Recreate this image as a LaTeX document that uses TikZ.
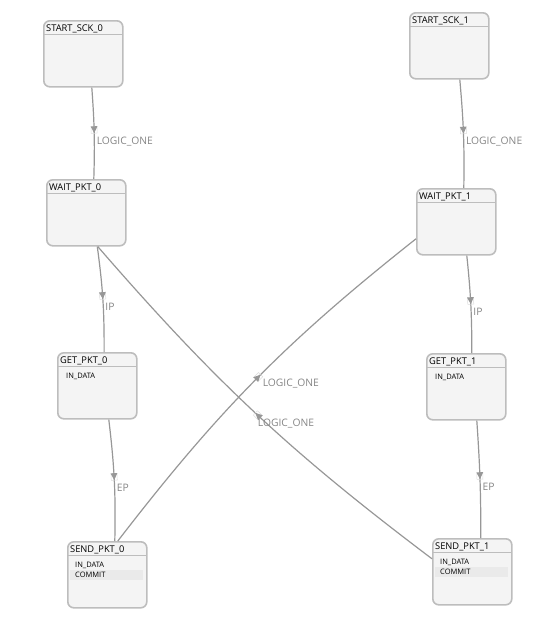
\documentclass[tikz,border=0pt]{standalone}
\usepackage{fontspec}
\setmainfont{Open Sans}
\usetikzlibrary{arrows.meta,decorations.markings}

\definecolor{boxfill}{HTML}{F4F4F4}
\definecolor{boxline}{HTML}{BDBDBD}
\definecolor{band}{HTML}{EAEAEA}
\definecolor{edgecol}{HTML}{979797}
\definecolor{lblcol}{HTML}{858585}
\definecolor{sqcol}{HTML}{DCDCDC}

\tikzset{
  markpos/.store in=\markpos, markpos=0.5,
  state/.style={draw=boxline, line width=1.6, fill=boxfill, rounded corners=6,
    minimum width=79, minimum height=66, inner sep=0, anchor=north west,
    path picture={\draw[boxline, line width=1]
      ([yshift=-14]path picture bounding box.north west) --
      ([yshift=-14]path picture bounding box.north east);}},
  title/.style={anchor=base west, inner sep=0, xshift=3, yshift=-11,
    font=\fontsize{9.3}{11}\selectfont},
  item/.style={anchor=base west, inner sep=0, font=\fontsize{7.5}{9}\selectfont},
  itemsel/.style={item, fill=band, inner xsep=5, inner ysep=0, text width=63,
    text height=7.7, text depth=2.3},
  trans/.style={draw=edgecol, line width=1.2,
    postaction={decorate, decoration={markings, mark=at position \markpos with {
      \draw[sqcol, line width=0.5] (-6,-3) rectangle (0,3);
      \arrow[edgecol]{Triangle[length=7,width=6.5]};}}}},
  lbl/.style={anchor=west, inner sep=0, xshift=2, yshift=-8, text=lblcol,
    font=\fontsize{10.3}{12}\selectfont}
}

\begin{document}
\begin{tikzpicture}[x=1pt, y=-1pt]
  \useasboundingbox (0,0) rectangle (557,627);

  \begin{scope}[every node/.style={state}]
    \node (start0) at (43,20)   {};
    \node (wait0)  at (46,179)  {};
    \node (get0)   at (57,352)  {};
    \node (send0)  at (67,541)  {};
    \node (start1) at (409,12)  {};
    \node (wait1)  at (416,188) {};
    \node (get1)   at (426,353) {};
    \node (send1)  at (432,538) {};
  \end{scope}

  \begin{scope}[every node/.style={title}]
    \node (start0-t) at (start0.north west) {START\_SCK\_0};
    \node (wait0-t)  at (wait0.north west)  {WAIT\_PKT\_0};
    \node (get0-t)   at (get0.north west)   {GET\_PKT\_0};
    \node (send0-t)  at (send0.north west)  {SEND\_PKT\_0};
    \node (start1-t) at (start1.north west) {START\_SCK\_1};
    \node (wait1-t)  at (wait1.north west)  {WAIT\_PKT\_1};
    \node (get1-t)   at (get1.north west)   {GET\_PKT\_1};
    \node (send1-t)  at (send1.north west)  {SEND\_PKT\_1};
  \end{scope}

  % state variables
  \node[item]    (get0-in)  at ([xshift=9,yshift=-26.7]get0.north west)  {IN\_DATA};
  \node[item]    (send0-in) at ([xshift=8,yshift=-26.7]send0.north west) {IN\_DATA};
  \node[itemsel] (send0-cm) at ([xshift=3,yshift=-36.7]send0.north west) {COMMIT};
  \node[item]    (get1-in)  at ([xshift=9,yshift=-26.7]get1.north west)  {IN\_DATA};
  \node[item]    (send1-in) at ([xshift=8,yshift=-26.7]send1.north west) {IN\_DATA};
  \node[itemsel] (send1-cm) at ([xshift=3,yshift=-36.7]send1.north west) {COMMIT};

  \begin{scope}[every node/.style={lbl}, every edge/.style={trans}]
    \path ([xshift=8.5]start0.south) edge[bend left=3] node {LOGIC\_ONE} ([xshift=7.5]wait0.north);
    \path ([xshift=11]wait0.south)   edge[bend left=4] node {IP}        ([xshift=6.8]get0.north);
    \path ([xshift=11.5]get0.south)  edge[bend left=4] node {EP}        ([xshift=7.5]send0.north);
    \path ([xshift=10.5]start1.south) edge[bend left=3] node {LOGIC\_ONE} ([xshift=7.5]wait1.north);
    \path ([xshift=10.5]wait1.south) edge[bend left=3] node {IP}        ([xshift=5.5]get1.north);
    \path ([xshift=10.5]get1.south)  edge[bend left=2] node {EP}        ([xshift=8.5]send1.north);
    \path ([xshift=10.5]send0.north) edge[bend left=7, markpos=0.515] node[pos=0.515] {LOGIC\_ONE} ([yshift=-17]wait1.west);
    \path ([yshift=13]send1.west)    edge[bend left=6] node[yshift=-3] {LOGIC\_ONE} ([xshift=11.5]wait0.south);
  \end{scope}

\end{tikzpicture}
\end{document}
